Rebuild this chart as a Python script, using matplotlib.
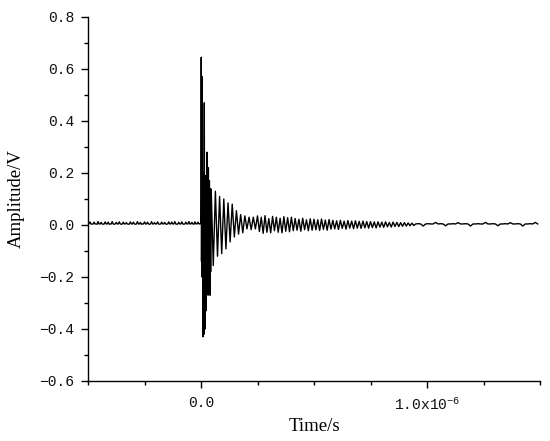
import numpy as np
import matplotlib
matplotlib.use("Agg")
import matplotlib.pyplot as plt
from matplotlib.ticker import MultipleLocator, FixedLocator

# ---- data (amplitude in V, time segments in seconds) ----
pre_noise = [0.004,0.004,0.012,0.004,0.003,0.004,0.011,0.004,0.004,0.003,0.013,0.004,0.004,0.010,0.004,
             0.003,0.004,0.012,0.004,0.004,0.011,0.003,0.004,0.004,0.013,0.004,0.003,0.004,0.010,0.004,
             0.004,0.012,0.004,0.003,0.004,0.011,0.004,0.004,0.009,0.004,0.003,0.004,0.012,0.004,0.004,
             0.011,0.004,0.003,0.004,0.013,0.004,0.004,0.010,0.003,0.004,0.004,0.012,0.004,0.004,0.011,
             0.004,0.003,0.004,0.013,0.004,0.004,0.009,0.004,0.004,0.012,0.004,0.003,0.004,0.011,0.004,
             0.004,0.010,0.004,0.003,0.004,0.012,0.004,0.004,0.011,0.004,0.004,0.013,0.004,0.003,0.004,
             0.010,0.004,0.004,0.012,0.004,0.003,0.004,0.011,0.004,0.004,0.013,0.004,0.004,0.010,0.004,
             0.003,0.012,0.004,0.004,0.011,0.004,0.005]
burst = [0.005,0.645,-0.14,0.18,-0.20,0.57,-0.18,0.17,-0.43,0.20,-0.19,0.18,-0.42,0.47,-0.21,0.16,
         -0.40,0.19,-0.20,0.17,-0.33,0.18,-0.21,0.28,-0.19,0.17,-0.20,0.16,-0.27,0.22,-0.18,0.15,
         -0.20,0.17,-0.19,0.14,-0.27,0.12,-0.18,0.10]
decay = [0.138,-0.156,0.13,-0.12,0.11,-0.11,0.10,-0.092,0.085,-0.065,0.08,-0.046,0.055,-0.035,
         0.04,-0.03,0.035,-0.015,0.03,-0.018,0.03,-0.015]
ring = [0.035,-0.025,0.030,-0.032,0.036,-0.028,0.025,-0.030,0.033,-0.022,0.030,-0.028,0.026,-0.030,
        0.032,-0.024,0.028,-0.026,0.030,-0.022,
        0.025,-0.020,0.022,-0.024,0.026,-0.018,0.020,-0.022,0.024,-0.020,0.022,-0.018,0.020,-0.021,
        0.023,-0.017,0.019,-0.020,0.021,-0.016,
        0.018,-0.015,0.016,-0.017,0.018,-0.013,0.015,-0.016,0.017,-0.012,0.015,-0.014,0.016,-0.012,
        0.014,-0.013,0.015,-0.011,0.013,-0.012,
        0.013,-0.010,0.012,-0.011,0.012,-0.008,0.011,-0.009,0.012,-0.007,0.010,-0.008,0.011,-0.006,
        0.010,-0.006,0.009,-0.005,0.009,-0.004,0.008,-0.003,0.007,-0.002]
post_noise = [0.004,0.005,0.004,-0.004,0.004,0.005,0.004,0.004,0.010,0.004,0.005,0.004,-0.003,0.004,
              0.004,0.005,0.004,0.009,0.004,0.004,0.005,0.004,-0.004,0.004,0.004,0.005,0.004,0.004,
              0.010,0.004,0.004,0.005,0.004,-0.003,0.004,0.004,0.005,0.004,0.009,0.004,0.004,0.005,
              0.004,-0.004,0.004,0.004,0.005,0.004,0.010,0.004]
seg_bounds = [-0.5e-6, 0.0, 0.045e-6, 0.25e-6, 0.95e-6, 1.49e-6]

x_ticks = [0.0, 1.0e-6]
x_ticklabels = ["0.0", "1.0x10$^{-6}$"]
y_ticks = [-0.6, -0.4, -0.2, 0.0, 0.2, 0.4, 0.6, 0.8]
y_ticklabels = ["\u22120.6", "\u22120.4", "\u22120.2", "0.0", "0.2", "0.4", "0.6", "0.8"]

# ---- build series ----
segments = [pre_noise, burst, decay, ring, post_noise]
ts, vs = [], []
for i, seg in enumerate(segments):
    t = np.linspace(seg_bounds[i], seg_bounds[i + 1], len(seg), endpoint=(i == len(segments) - 1))
    ts.append(t)
    vs.append(np.asarray(seg))
t_all = np.concatenate(ts)
v_all = np.concatenate(vs)

plt.rcParams['mathtext.fontset'] = 'custom'
plt.rcParams['mathtext.rm'] = 'Liberation Mono'
plt.rcParams['mathtext.default'] = 'regular'

fig = plt.figure(figsize=(5.5, 4.41), dpi=100)
ax = fig.add_axes([88/550, 1-381/441, (540-88)/550, (381-17)/441])

ax.plot(t_all, v_all, color='black', lw=1.0)

ax.set_xlim(-0.5e-6, 1.5e-6)
ax.set_ylim(-0.6, 0.8)
for s in ['top', 'right']:
    ax.spines[s].set_visible(False)
for s in ['left', 'bottom']:
    ax.spines[s].set_linewidth(1.0)

ax.xaxis.set_major_locator(FixedLocator(x_ticks))
ax.set_xticklabels(x_ticklabels)
ax.xaxis.set_minor_locator(MultipleLocator(0.25e-6))
ax.yaxis.set_major_locator(FixedLocator(y_ticks))
ax.set_yticklabels(y_ticklabels)
ax.yaxis.set_minor_locator(MultipleLocator(0.1))

ax.tick_params(which='major', direction='out', length=5, width=1.0)
ax.tick_params(axis='y', which='major', pad=5)
ax.tick_params(axis='x', which='major', pad=6)
ax.tick_params(which='minor', direction='out', length=3, width=1.0)
for lab in ax.get_xticklabels() + ax.get_yticklabels():
    lab.set_fontfamily('Liberation Mono')
    lab.set_fontsize(10.5)
    lab.set_color('#111111')

ax.set_xlabel("Time/s", fontfamily='Liberation Serif', fontsize=13.5, labelpad=4)
ax.set_ylabel("Amplitude/V", fontfamily='Liberation Serif', fontsize=13.5, labelpad=10)

fig.savefig("out.png", dpi=100, facecolor='white')
